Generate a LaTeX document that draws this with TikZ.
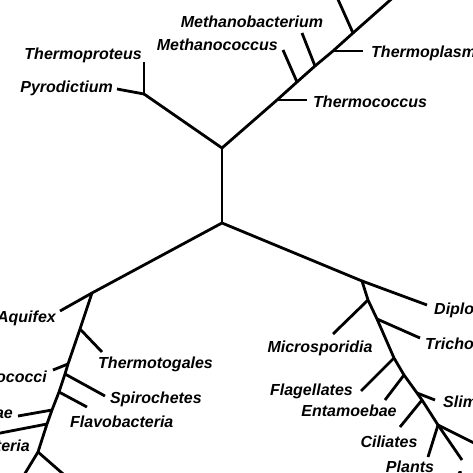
\documentclass[tikz,border=0pt]{standalone}
\usepackage{fontspec}
\setmainfont{Liberation Sans}

\begin{document}
\begin{tikzpicture}[x=1pt, y=-1pt,
    br/.style={draw=black, line width=2.8pt},
    lab/.style={font=\fontsize{16}{19}\selectfont\bfseries\itshape, inner sep=0pt}]
  \useasboundingbox (0,0) rectangle (472,473);
  % root edge
  \coordinate (top) at (222,148);
  \coordinate (bot) at (222,223);
  % archaea
  \coordinate (cren) at (144,94);
  \coordinate (tpro) at (144,62);  \coordinate (pyro) at (117,89);
  \coordinate (a1) at (277,100);   \coordinate (tcoc) at (307,100);
  \coordinate (a2) at (297,82);    \coordinate (mcoc) at (283,50);
  \coordinate (a3) at (315,66);    \coordinate (mbac) at (302,33);
  \coordinate (a4) at (333,51);    \coordinate (tpla) at (363,51);
  \coordinate (a5) at (353,33);    \coordinate (msar) at (332,-14);
  \coordinate (a6) at (405,-13);
  % bacteria
  \coordinate (b0) at (92,293);    \coordinate (aqui) at (60,311);
  \coordinate (b1) at (80,329);    \coordinate (ttog) at (102,352);
  \coordinate (b2) at (68,364);    \coordinate (dein) at (53,370);
  \coordinate (b3) at (65,374);    \coordinate (spir) at (105,396);
  \coordinate (b4) at (59,392);    \coordinate (flav) at (87,407);
  \coordinate (b5) at (52,410);    \coordinate (chla) at (18,416);
  \coordinate (b6) at (47,424);    \coordinate (cyan) at (-10,435);
  \coordinate (b7) at (38,452);
  \coordinate (b7l) at (21,480);   \coordinate (b7r) at (70,480);
  % eucarya
  \coordinate (e0) at (362,281);   \coordinate (dipl) at (427,305);
  \coordinate (e1) at (368,300);   \coordinate (micr) at (333,334);
  \coordinate (e2) at (377,319);   \coordinate (tric) at (420,338);
  \coordinate (e3) at (394,358);   \coordinate (flag) at (361,391);
  \coordinate (e4) at (404,375);   \coordinate (enta) at (385,400);
  \coordinate (e5) at (417,393);   \coordinate (slim) at (435,400);
  \coordinate (e6) at (422,400);   \coordinate (cili) at (400,427);
  \coordinate (e7) at (438,425);   \coordinate (plan) at (428,457);
  \coordinate (anim) at (462,460); \coordinate (fung) at (482,447);

  \draw[br] (top) -- (bot);
  \draw[br] (cren) -- (top) -- (a1) -- (a2) -- (a3) -- (a4) -- (a5) -- (a6);
  \draw[br] (b7) -- (b6) -- (b5) -- (b4) -- (b3) -- (b2) -- (b1) -- (b0) -- (bot)
    -- (e0) -- (e1) -- (e2) -- (e3) -- (e4) -- (e5) -- (e6) -- (e7);
  \foreach \a/\b in {cren/tpro, cren/pyro, a1/tcoc, a2/mcoc, a3/mbac, a4/tpla, a5/msar,
                     b0/aqui, b1/ttog, b2/dein, b3/spir, b4/flav, b5/chla, b6/cyan,
                     b7/b7l, b7/b7r,
                     e0/dipl, e1/micr, e2/tric, e3/flag, e4/enta, e5/slim, e6/cili,
                     e7/plan, e7/anim, e7/fung}
    { \draw[br] (\a) -- (\b); }

  % labels
  \node[lab, anchor=base east] (Ltpro) at (142,60)  {Thermoproteus};
  \node[lab, anchor=base east] (Lpyro) at (113,93)  {Pyrodictium};
  \node[lab, anchor=base]      (Lmbac) at (252,28)  {Methanobacterium};
  \node[lab, anchor=base east] (Lmcoc) at (278,51)  {Methanococcus};
  \node[lab, anchor=base west] (Ltcoc) at (313,108) {Thermococcus};
  \node[lab, anchor=base west] (Ltpla) at (371,58)  {Thermoplasma};

  \node[lab, anchor=base east] (Laqui) at (56,322)  {Aquifex};
  \node[lab, anchor=base west] (Lttog) at (98,368)  {Thermotogales};
  \node[lab, anchor=base east] (Ldein) at (47,382)  {Deinococci};
  \node[lab, anchor=base west] (Lspir) at (110,403) {Spirochetes};
  \node[lab, anchor=base west] (Lflav) at (70,427)  {Flavobacteria};
  \node[lab, anchor=base east] (Lchla) at (13,418)  {Chlamydiae};
  \node[lab, anchor=base east] (Lcyan) at (30,451)  {Cyanobacteria};

  \node[lab, anchor=base west] (Ldipl) at (434,314) {Diplomonads};
  \node[lab, anchor=base]      (Lmicr) at (320,352) {Microsporidia};
  \node[lab, anchor=base west] (Ltric) at (425,349) {Trichomonads};
  \node[lab, anchor=base east] (Lflag) at (353,395) {Flagellates};
  \node[lab, anchor=base]      (Lenta) at (349,416) {Entamoebae};
  \node[lab, anchor=base west] (Lslim) at (443,407) {Slime molds};
  \node[lab, anchor=base]      (Lcili) at (389,447) {Ciliates};
  \node[lab, anchor=base]      (Lplan) at (410,472) {Plants};
  \node[lab, anchor=base west] (Lanim) at (453,482) {Animals};
\end{tikzpicture}
\end{document}
